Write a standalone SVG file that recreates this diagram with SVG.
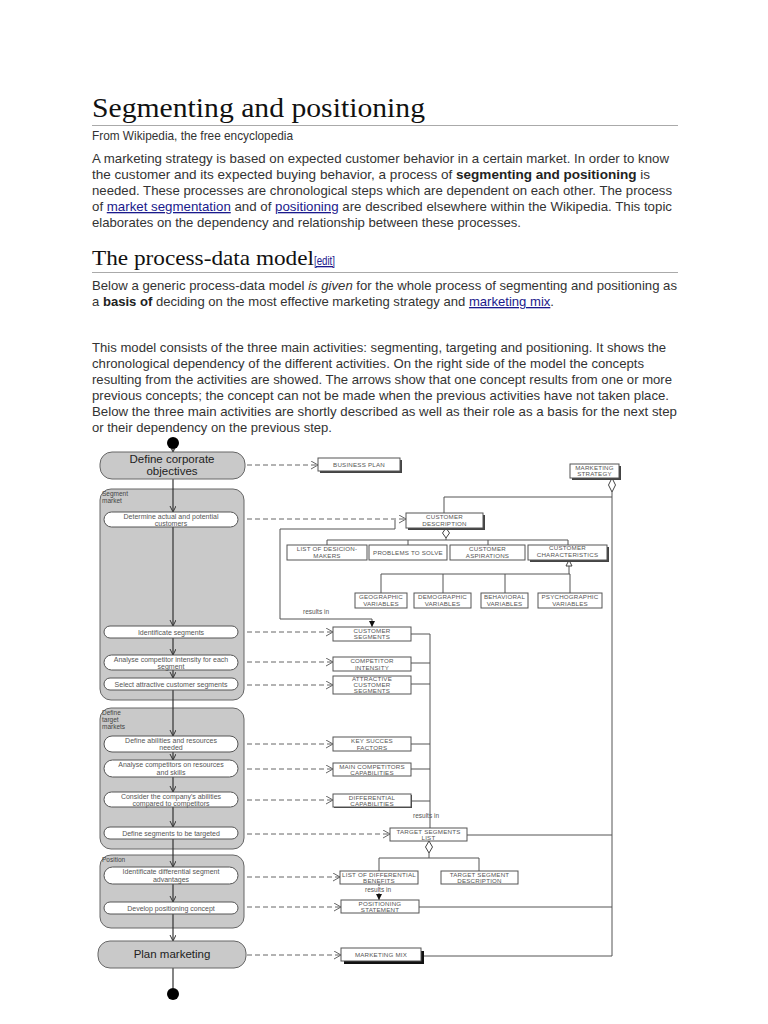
<svg xmlns="http://www.w3.org/2000/svg" width="768" height="1024" viewBox="0 0 768 1024">
<style>
.body{font-family:"Liberation Sans Narrow","Liberation Sans",Arial,sans-serif;font-size:13px;fill:#333}
.link{fill:#1a1a8c;text-decoration:underline}
.grp{fill:#c9c9c9;stroke:#666;stroke-width:1}
.big{fill:#c9c9c9;stroke:#666;stroke-width:1}
.act{fill:#fff;stroke:#555;stroke-width:1}
.box{fill:#fff;stroke:#555;stroke-width:1}
.sh{fill:#444}
.flow{stroke:#333;stroke-width:1.2;fill:none}
.dash{stroke:#666;stroke-width:1;stroke-dasharray:5,3;fill:none}
.con{stroke:#555;stroke-width:1;fill:none}
.dia{fill:#fff;stroke:#444;stroke-width:1}
.at{font-family:"Liberation Sans",Arial,sans-serif;font-size:7px;fill:#555;text-anchor:middle}
.bt{font-family:"Liberation Sans",Arial,sans-serif;font-size:6.2px;fill:#555;text-anchor:middle;letter-spacing:0.2px}
.gl{font-family:"Liberation Sans",Arial,sans-serif;font-size:6.5px;fill:#444}
.bigt{font-family:"Liberation Sans",Arial,sans-serif;font-size:11.5px;fill:#222;text-anchor:middle}
.ri{font-family:"Liberation Sans",Arial,sans-serif;font-size:6.5px;fill:#555}
</style>
<defs>
<marker id="fa" markerWidth="8" markerHeight="8" refX="6" refY="3" orient="auto" markerUnits="userSpaceOnUse">
<path d="M0,0 L6,3 L0,6" fill="none" stroke="#333" stroke-width="1"/>
</marker>
<marker id="da" markerWidth="10" markerHeight="10" refX="7" refY="4" orient="auto" markerUnits="userSpaceOnUse">
<path d="M0,0 L7,4 L0,8" fill="none" stroke="#666" stroke-width="1"/>
</marker>
<marker id="sa" markerWidth="8" markerHeight="8" refX="6" refY="3" orient="auto" markerUnits="userSpaceOnUse">
<path d="M0,0 L6,3 L0,6 Z" fill="#111"/>
</marker>
</defs>
<rect width="768" height="1024" fill="#fff"/>

<g id="page-text">
<text x="92" y="117" font-family="Liberation Serif,Times New Roman,serif" font-size="28" fill="#111" textLength="333" lengthAdjust="spacingAndGlyphs">Segmenting and positioning</text>
<line x1="92" y1="125.5" x2="678" y2="125.5" stroke="#aaa"/>
<text class="body" x="92" y="140" font-size="11.5" textLength="201" lengthAdjust="spacingAndGlyphs">From Wikipedia, the free encyclopedia</text>
<text class="body" x="92" y="163" textLength="577" lengthAdjust="spacingAndGlyphs">A marketing strategy is based on expected customer behavior in a certain market. In order to know</text>
<text class="body" x="92" y="179" textLength="558" lengthAdjust="spacingAndGlyphs">the customer and its expected buying behavior, a process of <tspan font-weight="bold" fill="#222">segmenting and positioning</tspan> is</text>
<text class="body" x="92" y="195" textLength="580" lengthAdjust="spacingAndGlyphs">needed. These processes are chronological steps which are dependent on each other. The process</text>
<text class="body" x="92" y="211" textLength="580" lengthAdjust="spacingAndGlyphs">of <tspan class="link">market segmentation</tspan> and of <tspan class="link">positioning</tspan> are described elsewhere within the Wikipedia. This topic</text>
<text class="body" x="92" y="227" textLength="429" lengthAdjust="spacingAndGlyphs">elaborates on the dependency and relationship between these processes.</text>

<text x="92" y="265" font-family="Liberation Serif,Times New Roman,serif" font-size="22" fill="#111" textLength="222" lengthAdjust="spacingAndGlyphs">The process-data model</text>
<text class="body link" x="314" y="265" font-size="11" textLength="21" lengthAdjust="spacingAndGlyphs">[edit]</text>
<line x1="92" y1="272.5" x2="678" y2="272.5" stroke="#aaa"/>
<text class="body" x="92" y="290" textLength="585" lengthAdjust="spacingAndGlyphs">Below a generic process-data model <tspan font-style="italic">is given</tspan> for the whole process of segmenting and positioning as</text>
<text class="body" x="92" y="306" textLength="462" lengthAdjust="spacingAndGlyphs">a <tspan font-weight="bold" fill="#222">basis of</tspan> deciding on the most effective marketing strategy and <tspan class="link">marketing mix</tspan>.</text>

<text class="body" x="92" y="352" textLength="574" lengthAdjust="spacingAndGlyphs">This model consists of the three main activities: segmenting, targeting and positioning. It shows the</text>
<text class="body" x="92" y="368" textLength="552" lengthAdjust="spacingAndGlyphs">chronological dependency of the different activities. On the right side of the model the concepts</text>
<text class="body" x="92" y="384" textLength="580" lengthAdjust="spacingAndGlyphs">resulting from the activities are showed. The arrows show that one concept results from one or more</text>
<text class="body" x="92" y="400" textLength="577" lengthAdjust="spacingAndGlyphs">previous concepts; the concept can not be made when the previous activities have not taken place.</text>
<text class="body" x="92" y="416" textLength="585" lengthAdjust="spacingAndGlyphs">Below the three main activities are shortly described as well as their role as a basis for the next step</text>
<text class="body" x="92" y="432" textLength="240" lengthAdjust="spacingAndGlyphs">or their dependency on the previous step.</text>
</g>

<!-- groups (swimlanes) -->
<g id="grp-segment"><rect class="grp" x="100" y="489" width="144" height="211" rx="11"/><text class="gl" x="102" y="496">Segment</text><text class="gl" x="102" y="503">market</text></g>
<g id="grp-target"><rect class="grp" x="100" y="708" width="144" height="141" rx="11"/><text class="gl" x="102" y="715">Define</text><text class="gl" x="102" y="722">target</text><text class="gl" x="102" y="729">markets</text></g>
<g id="grp-position"><rect class="grp" x="100" y="855" width="144" height="73" rx="11"/><text class="gl" x="102" y="862">Position</text></g>

<!-- connectors -->
<g id="connectors">
<path class="flow" d="M173,449 V452" marker-end="url(#fa)"/>
<path class="flow" d="M173,479 V512" marker-end="url(#fa)"/>
<path class="flow" d="M173,527 V626" marker-end="url(#fa)"/>
<path class="flow" d="M173,638 V655" marker-end="url(#fa)"/>
<path class="flow" d="M173,670 V678" marker-end="url(#fa)"/>
<path class="flow" d="M173,690 V736" marker-end="url(#fa)"/>
<path class="flow" d="M173,752 V760" marker-end="url(#fa)"/>
<path class="flow" d="M173,777 V792" marker-end="url(#fa)"/>
<path class="flow" d="M173,807 V827" marker-end="url(#fa)"/>
<path class="flow" d="M173,839 V867" marker-end="url(#fa)"/>
<path class="flow" d="M173,884 V902" marker-end="url(#fa)"/>
<path class="flow" d="M173,914 V941" marker-end="url(#fa)"/>
<path class="flow" d="M173,968 V988"/>

<path class="dash" d="M247,465 H318" marker-end="url(#da)"/>
<path class="dash" d="M247,519 H406" marker-end="url(#da)"/>
<path class="dash" d="M247,632 H333" marker-end="url(#da)"/>
<path class="dash" d="M247,662 H333" marker-end="url(#da)"/>
<path class="dash" d="M247,685 H333" marker-end="url(#da)"/>
<path class="dash" d="M247,744 H333" marker-end="url(#da)"/>
<path class="dash" d="M247,769 H333" marker-end="url(#da)"/>
<path class="dash" d="M247,800 H333" marker-end="url(#da)"/>
<path class="dash" d="M247,834 H390" marker-end="url(#da)"/>
<path class="dash" d="M247,877 H340" marker-end="url(#da)"/>
<path class="dash" d="M247,907 H341" marker-end="url(#da)"/>
<path class="dash" d="M247,955 H341" marker-end="url(#da)"/>

<!-- results in: customer description -> customer segments -->
<path class="con" d="M395,520 V529 H280 V619 H372 V627" marker-end="url(#sa)"/>
<text class="ri" x="303" y="614">results in</text>

<!-- marketing strategy aggregation -->
<path class="con" d="M612,492 V956"/>
<path class="con" d="M444,513 V497 H612"/>
<path class="con" d="M467,835 H612"/>
<path class="con" d="M419,907 H612"/>
<path class="con" d="M421,956 H612"/>
<polygon class="dia" points="612,478 615.5,485 612,492 608.5,485"/>

<!-- customer description aggregation -->
<path class="con" d="M446,538 V540 M327,540 H568 M327,540 V545 M408,540 V545 M488,540 V545 M568,540 V545"/>
<polygon class="dia" points="446,528 449.5,533 446,538 442.5,533"/>

<!-- customer characteristics generalization -->
<path class="con" d="M569,566 V574 M381,574 H570 M381,574 V593 M443,574 V593 M505,574 V593 M570,574 V593"/>
<polygon class="dia" points="569,560 572,566 566,566"/>

<!-- segments -> target segments list -->
<path class="con" d="M411,634 H430 M411,663 H430 M411,684 H430 M411,744 H430 M411,769 H430 M411,801 H430 M430,634 V828"/>
<text class="ri" x="413" y="818">results in</text>

<!-- target segments list aggregation -->
<path class="con" d="M429,853 V858 M379,858 H479 M379,858 V871 M479,858 V871"/>
<polygon class="dia" points="429,841 432.5,847 429,853 425.5,847"/>

<!-- results in: differential benefits -> positioning statement -->
<path class="con" d="M379,884 V900" marker-end="url(#sa)"/>
<rect x="364" y="886" width="32" height="7" fill="#fff"/>
<text class="ri" x="365" y="892">results in</text>
</g>

<!-- start / end -->
<g id="start"><circle cx="173" cy="443" r="6" fill="#000"/></g>
<g id="end"><circle cx="173" cy="994" r="6" fill="#000"/></g>

<!-- main activities -->
<g id="define-objectives"><rect class="big" x="100" y="452" width="145" height="27" rx="12"/><text class="bigt" x="172" y="463">Define corporate</text><text class="bigt" x="172" y="475">objectives</text></g>
<g id="plan-marketing"><rect class="big" x="98" y="941" width="148" height="27" rx="12"/><text class="bigt" x="172" y="958">Plan marketing</text></g>

<!-- sub activities -->
<g id="act-determine"><rect class="act" x="104" y="512" width="134" height="15" rx="7.5"/><text class="at" x="171" y="518.5">Determine actual and potential</text><text class="at" x="171" y="525.5">customers</text></g>
<g id="act-identificate"><rect class="act" x="104" y="626" width="134" height="12" rx="6"/><text class="at" x="171" y="634.5">Identificate segments</text></g>
<g id="act-analyse-intensity"><rect class="act" x="104" y="655" width="134" height="15" rx="7.5"/><text class="at" x="171" y="661.5">Analyse competitor intensity for each</text><text class="at" x="171" y="668.5">segment</text></g>
<g id="act-select"><rect class="act" x="104" y="678" width="134" height="12" rx="6"/><text class="at" x="171" y="686.5">Select attractive customer segments</text></g>
<g id="act-define-abilities"><rect class="act" x="104" y="736" width="134" height="16" rx="8"/><text class="at" x="171" y="742.5">Define abilities and resources</text><text class="at" x="171" y="750">needed</text></g>
<g id="act-analyse-competitors"><rect class="act" x="104" y="760" width="134" height="17" rx="8.5"/><text class="at" x="171" y="767">Analyse competitors on resources</text><text class="at" x="171" y="774.5">and skills</text></g>
<g id="act-consider"><rect class="act" x="104" y="792" width="134" height="15" rx="7.5"/><text class="at" x="171" y="798.5">Consider the company's abilities</text><text class="at" x="171" y="805.5">compared to competitors</text></g>
<g id="act-define-segments"><rect class="act" x="104" y="827" width="134" height="12" rx="6"/><text class="at" x="171" y="835.5">Define segments to be targeted</text></g>
<g id="act-identificate-diff"><rect class="act" x="104" y="867" width="134" height="17" rx="8.5"/><text class="at" x="171" y="874">Identificate differential segment</text><text class="at" x="171" y="881.5">advantages</text></g>
<g id="act-develop"><rect class="act" x="104" y="902" width="134" height="12" rx="6"/><text class="at" x="171" y="910.5">Develop positioning concept</text></g>

<!-- concepts -->
<g id="business-plan"><rect class="sh" x="320" y="460" width="82" height="13"/><rect class="box" x="318" y="458" width="82" height="13"/><text class="bt" x="359" y="466.5">BUSINESS PLAN</text></g>
<g id="marketing-strategy"><rect class="sh" x="572" y="466" width="49" height="14"/><rect class="box" x="570" y="464" width="49" height="14"/><text class="bt" x="594.5" y="469.5">MARKETING</text><text class="bt" x="594.5" y="476">STRATEGY</text></g>
<g id="customer-description"><rect class="sh" x="408" y="515" width="77" height="15"/><rect class="box" x="406" y="513" width="77" height="15"/><text class="bt" x="444.5" y="519">CUSTOMER</text><text class="bt" x="444.5" y="526">DESCRIPTION</text></g>
<g id="decision-makers"><rect class="box" x="287" y="545" width="80" height="15"/><text class="bt" x="327" y="551">LIST OF DESICION-</text><text class="bt" x="327" y="558">MAKERS</text></g>
<g id="problems"><rect class="box" x="369" y="545" width="78" height="15"/><text class="bt" x="408" y="554.5">PROBLEMS TO SOLVE</text></g>
<g id="aspirations"><rect class="box" x="450" y="545" width="75" height="15"/><text class="bt" x="487.5" y="551">CUSTOMER</text><text class="bt" x="487.5" y="558">ASPIRATIONS</text></g>
<g id="characteristics"><rect class="sh" x="530" y="547" width="79" height="15"/><rect class="box" x="528" y="545" width="79" height="15"/><text class="bt" x="567.5" y="550">CUSTOMER</text><text class="bt" x="567.5" y="557">CHARACTERISTICS</text></g>
<g id="geographic"><rect class="box" x="355" y="593" width="52" height="15"/><text class="bt" x="381" y="599">GEOGRAPHIC</text><text class="bt" x="381" y="606">VARIABLES</text></g>
<g id="demographic"><rect class="box" x="414" y="593" width="57" height="15"/><text class="bt" x="442.5" y="599">DEMOGRAPHIC</text><text class="bt" x="442.5" y="606">VARIABLES</text></g>
<g id="behavioral"><rect class="box" x="481" y="593" width="47" height="15"/><text class="bt" x="504.5" y="599">BEHAVIORAL</text><text class="bt" x="504.5" y="606">VARIABLES</text></g>
<g id="psychographic"><rect class="box" x="538" y="593" width="64" height="15"/><text class="bt" x="570" y="599">PSYCHOGRAPHIC</text><text class="bt" x="570" y="606">VARIABLES</text></g>
<g id="customer-segments"><rect class="box" x="333" y="627" width="78" height="14"/><text class="bt" x="372" y="632.5">CUSTOMER</text><text class="bt" x="372" y="639">SEGMENTS</text></g>
<g id="competitor-intensity"><rect class="box" x="333" y="657" width="78" height="14"/><text class="bt" x="372" y="662.5">COMPETITOR</text><text class="bt" x="372" y="669.5">INTENSITY</text></g>
<g id="attractive-segments"><rect class="box" x="333" y="676" width="78" height="18"/><text class="bt" x="372" y="681">ATTRACTIVE</text><text class="bt" x="372" y="687">CUSTOMER</text><text class="bt" x="372" y="693">SEGMENTS</text></g>
<g id="key-success"><rect class="box" x="333" y="737" width="78" height="14"/><text class="bt" x="372" y="742.5">KEY SUCCES</text><text class="bt" x="372" y="749.5">FACTORS</text></g>
<g id="main-competitors"><rect class="box" x="333" y="763" width="78" height="13"/><text class="bt" x="372" y="768.5">MAIN COMPETITORS</text><text class="bt" x="372" y="775">CAPABILITIES</text></g>
<g id="differential-capabilities"><rect class="sh" x="334" y="795" width="78" height="13"/><rect class="box" x="333" y="794" width="78" height="13"/><text class="bt" x="372" y="799.5">DIFFERENTIAL</text><text class="bt" x="372" y="806">CAPABILITIES</text></g>
<g id="target-segments-list"><rect class="box" x="390" y="828" width="77" height="13"/><text class="bt" x="428.5" y="833.5">TARGET SEGMENTS</text><text class="bt" x="428.5" y="840">LIST</text></g>
<g id="differential-benefits"><rect class="box" x="340" y="871" width="78" height="13"/><text class="bt" x="379" y="876.5" textLength="74" lengthAdjust="spacingAndGlyphs">LIST OF DIFFERENTIAL</text><text class="bt" x="379" y="883">BENEFITS</text></g>
<g id="segment-description"><rect class="box" x="441" y="871" width="77" height="13"/><text class="bt" x="479.5" y="876.5">TARGET SEGMENT</text><text class="bt" x="479.5" y="883">DESCRIPTION</text></g>
<g id="positioning-statement"><rect class="box" x="341" y="900" width="78" height="13"/><text class="bt" x="380" y="905.5">POSITIONING</text><text class="bt" x="380" y="912">STATEMENT</text></g>
<g id="marketing-mix"><rect x="344" y="951" width="80" height="13" fill="#111"/><rect class="box" x="341" y="948" width="80" height="13"/><text class="bt" x="381" y="957" font-size="6.5" fill="#333">MARKETING MIX</text></g>
</svg>
